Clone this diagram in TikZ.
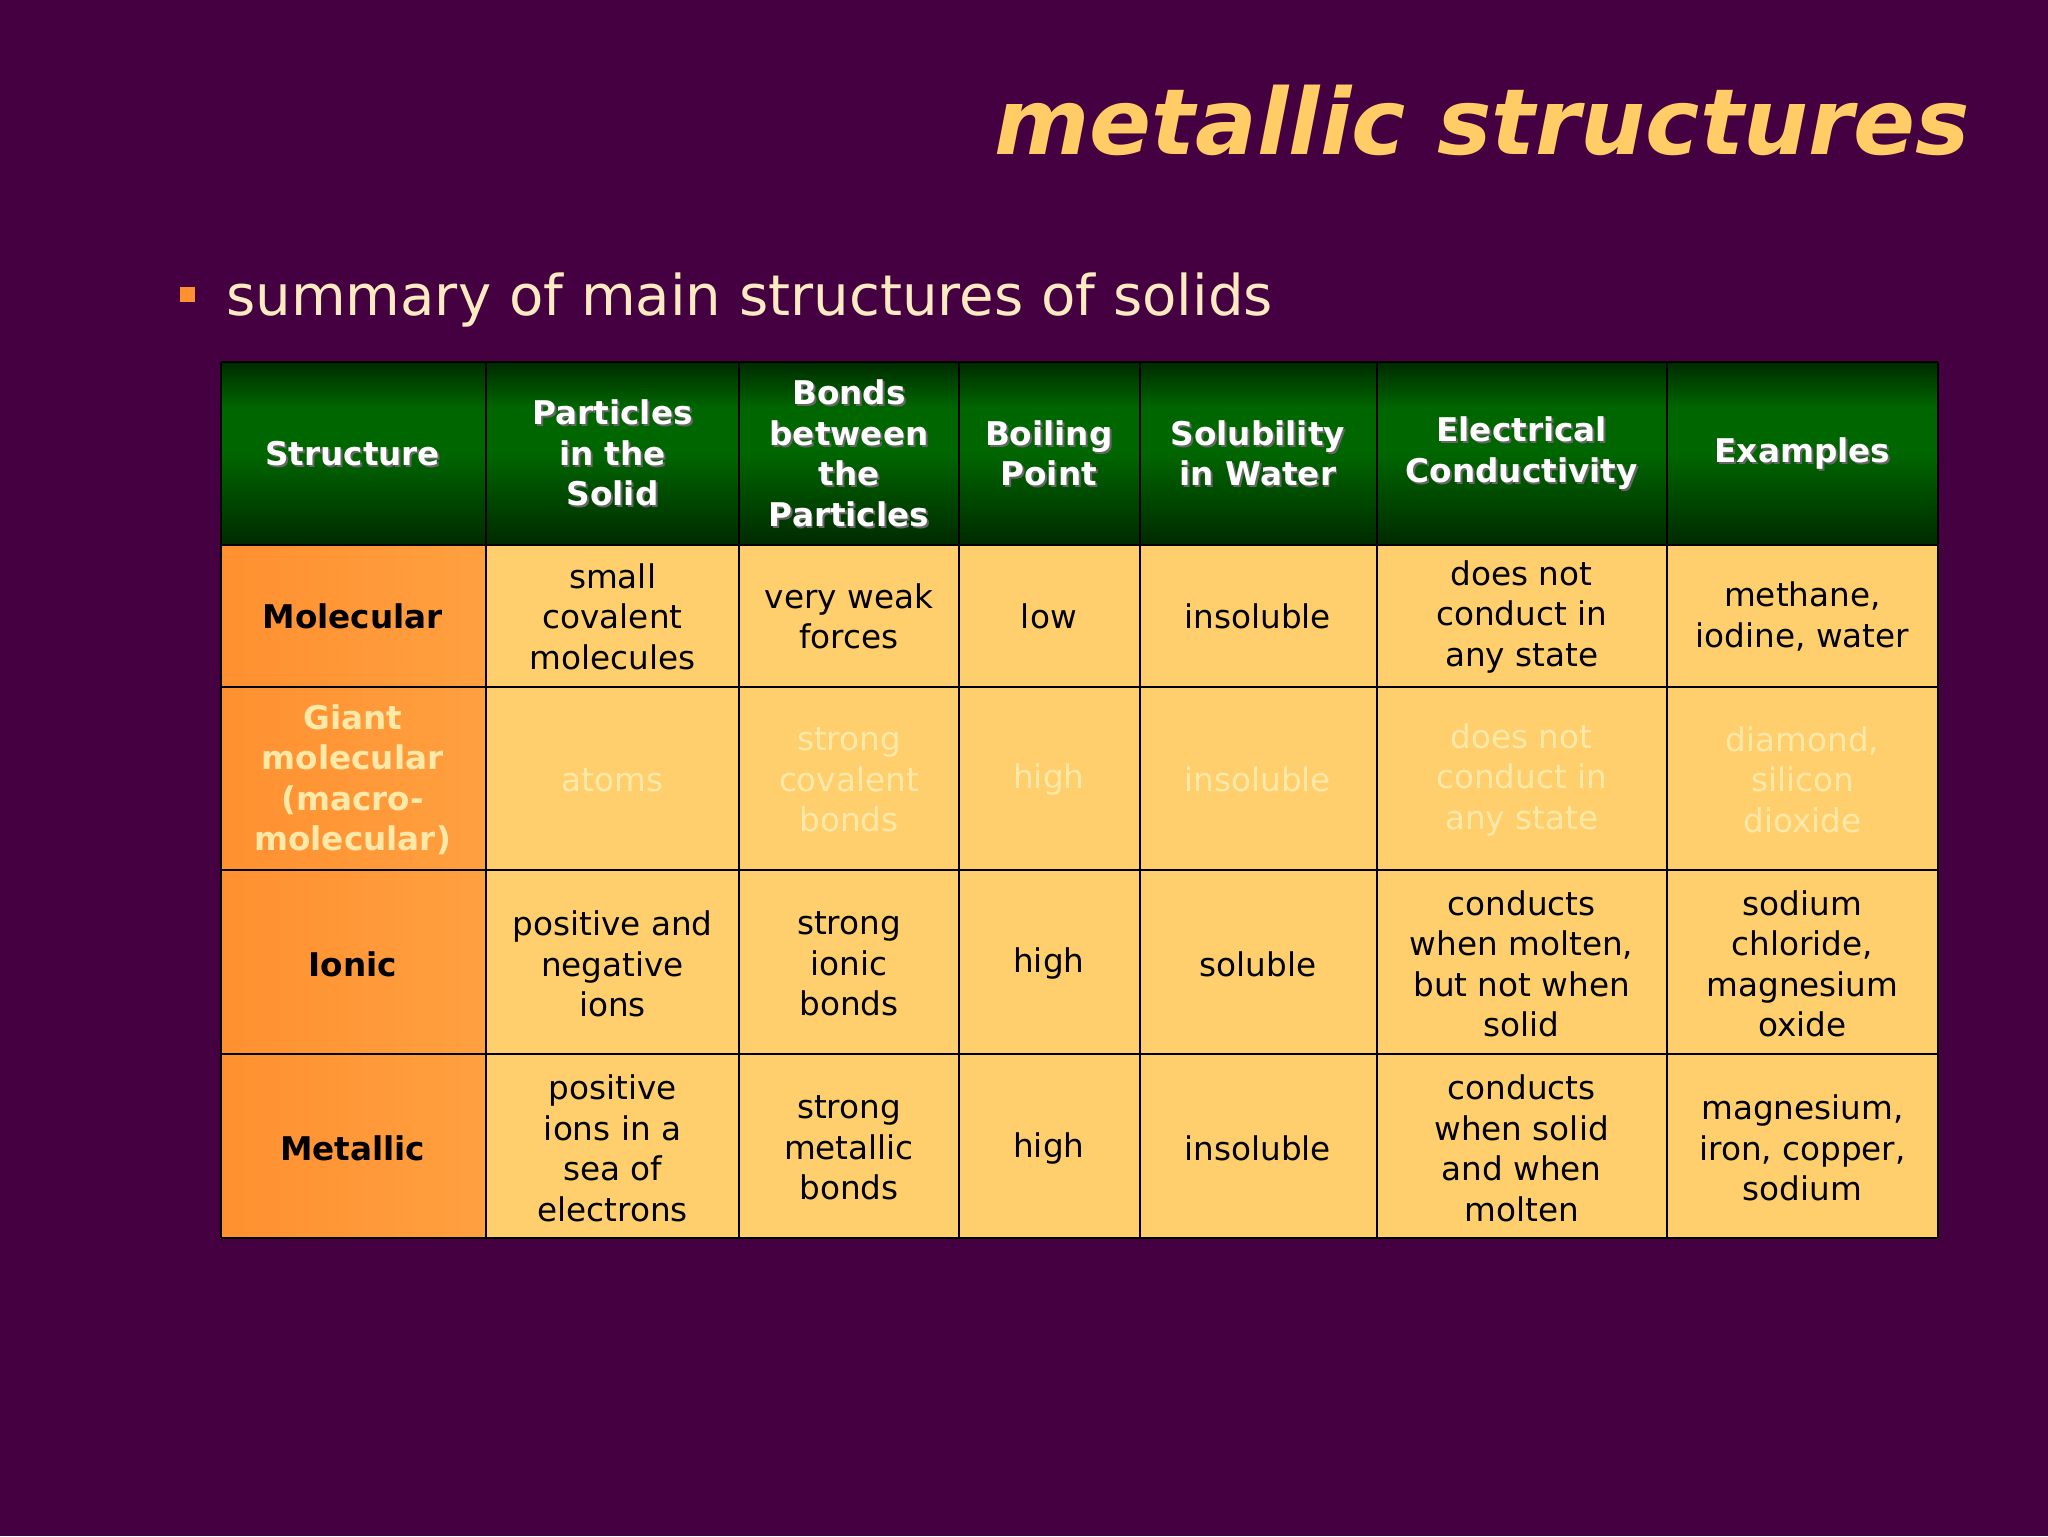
\documentclass[tikz,border=0pt]{standalone}
\usepackage{fontspec}
\setmainfont{DejaVu Sans}
\usetikzlibrary{shadows}
\definecolor{bg}{HTML}{440040}
\definecolor{ttl}{HTML}{FFCC66}
\definecolor{cellc}{HTML}{FFCF6E}
\definecolor{orgL}{HTML}{FFA040}
\definecolor{orgD}{HTML}{FF9030}
\definecolor{grn}{HTML}{006600}
\definecolor{grnD}{HTML}{002A00}
\definecolor{fade}{HTML}{FFE9A8}
\tikzset{
  x=1pt,y=-1pt,
  txt/.style={align=center,font=\fontsize{25}{31}\selectfont,text=black,inner sep=0pt},
  hdr/.style={align=center,font=\fontsize{25}{31}\selectfont\bfseries,text=white,inner sep=0pt},
  grid/.style={draw=black,line width=1.5pt}
}
\begin{document}
\begin{tikzpicture}
\fill[bg] (0,0) rectangle (1568,1176);
\useasboundingbox (0,0) rectangle (1568,1176);
\node[anchor=east,font=\fontsize{70}{80}\selectfont\bfseries\itshape,text=ttl] (title) at (1512,92) {metallic structures};
\fill[orgD] (138,220) rectangle (149,231);
\node[anchor=west,font=\fontsize{43}{50}\selectfont,text=ttl!40!white,inner sep=0pt] (sub) at (173,230) {summary of main structures of solids};
% header
\shade[top color=grnD,bottom color=grn,middle color=grn] (169,277) rectangle (1484,347);
\shade[top color=grn,bottom color=grnD] (169,347) rectangle (1484,417);
% first column
\fill[orgD] (169,417) rectangle (372,948);
\shade[left color=orgD,right color=orgL] (169,417) rectangle (372,948);
\fill[cellc] (372,417) rectangle (1484,948);
% grid
\foreach \x in {169,372,566,734,873,1054,1276,1484} \draw[grid] (\x,277) -- (\x,948);
\foreach \y in {277,417,526,666,807,948} \draw[grid] (169,\y) -- (1484,\y);
% header text
\foreach \x/\t/\n in {270/Structure/h1,469/{Particles\\in the\\Solid}/h2,650/{Bonds\\between\\the\\Particles}/h3,803/{Boiling\\Point}/h4,963/{Solubility\\in Water}/h5,1165/{Electrical\\Conductivity}/h6,1380/Examples/h7}
  {\node[hdr,text=black!60,xshift=1.5pt,yshift=-1.5pt] at (\x,347) {\t}; \node[hdr] (\n) at (\x,347) {\t};}
% row labels
\node[hdr,text=black] (r1) at (270,472) {Molecular};
\node[hdr,text=fade] (r2) at (270,597) {Giant\\molecular\\(macro-\\molecular)};
\node[hdr,text=black] (r3) at (270,738) {Ionic};
\node[hdr,text=black] (r4) at (270,879) {Metallic};
% row 1
\node[txt] (a1) at (469,472) {small\\covalent\\molecules};
\node[txt] (b1) at (650,472) {very weak\\forces};
\node[txt] (c1) at (803,472) {low};
\node[txt] (d1) at (963,472) {insoluble};
\node[txt] (e1) at (1165,472) {does not\\conduct in\\any state};
\node[txt] (f1) at (1380,472) {methane,\\iodine, water};
% row 2
\node[txt,text=fade] (a2) at (469,597) {atoms};
\node[txt,text=fade] (b2) at (650,597) {strong\\covalent\\bonds};
\node[txt,text=fade] (c2) at (803,597) {high};
\node[txt,text=fade] (d2) at (963,597) {insoluble};
\node[txt,text=fade] (e2) at (1165,597) {does not\\conduct in\\any state};
\node[txt,text=fade] (f2) at (1380,597) {diamond,\\silicon\\dioxide};
% row 3
\node[txt] (a3) at (469,738) {positive and\\negative\\ions};
\node[txt] (b3) at (650,738) {strong\\ionic\\bonds};
\node[txt] (c3) at (803,738) {high};
\node[txt] (d3) at (963,738) {soluble};
\node[txt] (e3) at (1165,738) {conducts\\when molten,\\but not when\\solid};
\node[txt] (f3) at (1380,738) {sodium\\chloride,\\magnesium\\oxide};
% row 4
\node[txt] (a4) at (469,879) {positive\\ions in a\\sea of\\electrons};
\node[txt] (b4) at (650,879) {strong\\metallic\\bonds};
\node[txt] (c4) at (803,879) {high};
\node[txt] (d4) at (963,879) {insoluble};
\node[txt] (e4) at (1165,879) {conducts\\when solid\\and when\\molten};
\node[txt] (f4) at (1380,879) {magnesium,\\iron, copper,\\sodium};
\end{tikzpicture}
\end{document}
